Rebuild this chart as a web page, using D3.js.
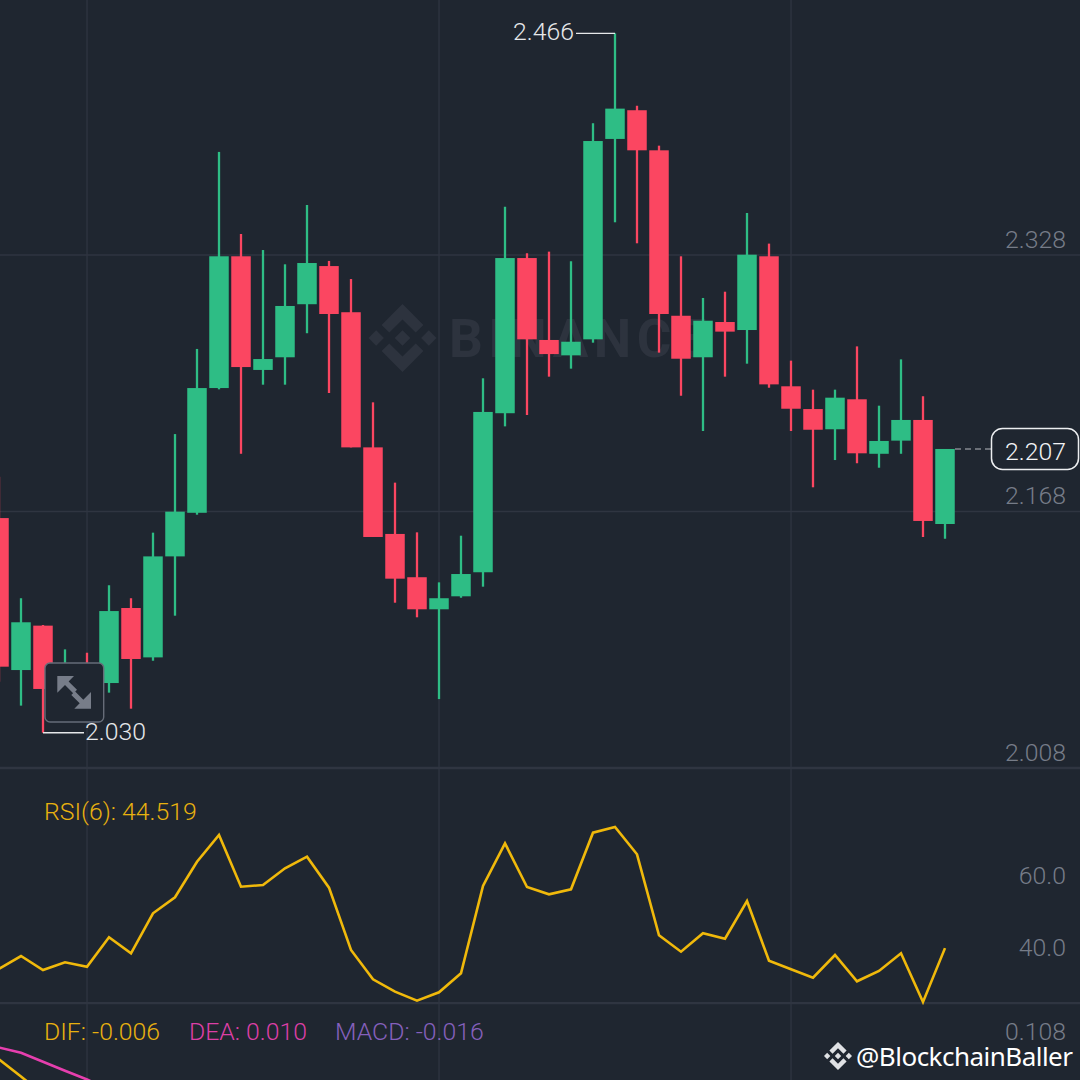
<!DOCTYPE html>
<html><head><meta charset="utf-8">
<script src="https://cdn.jsdelivr.net/npm/d3@7"></script>
<style>
html,body{margin:0;padding:0;background:#1f2630;}
svg{display:block;}
text{font-family:Roboto,sans-serif;font-weight:300;}
</style></head><body>
<svg id="c" width="1080" height="1080"></svg>
<script>
// candles, oldest to newest
const opens  = [2.1639,2.0691,2.0968,2.0573,2.0679,2.0610,2.1078,2.0770,2.1400,2.1672,2.2450,2.3272,2.2563,2.2642,2.2973,2.3211,2.2923,2.2080,2.1540,2.1270,2.1070,2.1151,2.1301,2.2293,2.3261,2.2750,2.2654,2.2754,2.4004,2.4183,2.3933,2.2901,2.2642,2.2862,2.2812,2.3272,2.2461,2.2319,2.2193,2.2380,2.2040,2.2122,2.2251,2.1602];
const closes = [2.0712,2.0989,2.0573,2.0679,2.0610,2.1059,2.0760,2.1400,2.1679,2.2450,2.3272,2.2581,2.2631,2.2962,2.3230,2.2912,2.2080,2.1521,2.1261,2.1070,2.1139,2.1290,2.2301,2.3261,2.2754,2.2662,2.2739,2.3991,2.4193,2.3933,2.2912,2.2633,2.2870,2.2802,2.3282,2.2473,2.2321,2.2190,2.2390,2.2043,2.2120,2.2251,2.1621,2.2070];
const highs  = [2.1897,2.1139,2.0972,2.0820,2.0799,2.1220,2.1139,2.1548,2.2163,2.2694,2.3923,2.3411,2.3311,2.3222,2.3592,2.3243,2.3130,2.2361,2.1860,2.1550,2.1238,2.1529,2.2511,2.3581,2.3291,2.3301,2.3241,2.4102,2.4663,2.4211,2.3962,2.3272,2.3012,2.3051,2.3542,2.3351,2.2621,2.2440,2.2440,2.2710,2.2340,2.2629,2.2399,2.2070];
const lows   = [2.0618,2.0469,2.0300,2.0473,2.0535,2.0550,2.0450,2.0749,2.1030,2.1660,2.2442,2.2040,2.2471,2.2471,2.2792,2.2419,2.2080,2.1521,2.1111,2.1020,2.0510,2.1142,2.1211,2.2211,2.2282,2.2521,2.2571,2.2733,2.3484,2.3353,2.2671,2.2402,2.2182,2.2521,2.2602,2.2452,2.2182,2.1831,2.2001,2.1981,2.1953,2.2040,2.1521,2.1510];
const rsi    = [38.84,42.34,38.48,40.61,39.39,47.50,43.09,54.12,58.54,68.36,75.72,61.46,61.93,66.54,69.74,61.19,44.00,35.92,32.50,30.01,32.33,37.57,61.66,73.43,61.38,59.37,60.74,76.36,77.93,70.40,48.06,43.53,48.61,47.12,57.52,41.05,38.68,36.36,42.62,35.37,38.21,43.09,29.66,44.519];
const dif    = [0.0834,0.0488,0.0140];
const dea    = [0.1070,0.0966,0.0786,0.0604,0.0430,0.0220];
const priceTicks = [2.328,2.168,2.008];
const rsiTicks   = [60,40];
const macdTicks  = [0.108];
const gridIndex  = [4,20,36];
const highLabel = "2.466", lowLabel = "2.030", lastLabel = "2.207";
const legendRsi = "RSI(6): 44.519";
const legendMacd = [["DIF: -0.006","#e8b10f",44],["DEA: 0.010","#dc3fa6",189],["MACD: -0.016","#8560bc",335]];
const watermark = "BINANCE", handle = "@BlockchainBaller";

const BG="#1f2630", GRID="#2f3541", GREEN="#2EBD85", RED="#FB4661", AXIS="#767c88", FS=24.8;
const svg=d3.select("#c");
svg.append("rect").attr("width",1080).attr("height",1080).attr("fill",BG);

const x=d3.scaleLinear().domain([0,43]).range([-1,945]);
const y=d3.scaleLinear().domain([2.328,2.008]).range([255,768]);
const yR=d3.scaleLinear().domain([40,60]).range([964.5,892]);
const yM=d3.scaleLinear().domain([0.108,0]).range([1047,1101]);

// Binance mark
const logoPolys=[
 [[38.73,53.2],[63.31,28.63],[87.9,53.21],[102.2,38.91],[63.31,0],[24.42,38.9]],
 [[0,63.31],[14.3,49.01],[28.6,63.31],[14.3,77.61]],
 [[38.73,73.41],[63.31,97.98],[87.9,73.41],[102.21,87.7],[63.31,126.61],[24.42,87.71]],
 [[98.01,63.31],[112.31,49.01],[126.61,63.31],[112.31,77.61]],
 [[77.83,63.3],[63.31,48.78],[48.8,63.29],[63.31,77.82]]];
function logo(cx,cy,size,fill){
  const s=size/126.61, g=svg.append("g").attr("transform",`translate(${cx-size/2},${cy-size/2}) scale(${s})`);
  g.selectAll("polygon").data(logoPolys).join("polygon").attr("points",d=>d.join(" ")).attr("fill",fill);
}
logo(402.5,338,68,"#2d333e");
svg.append("text").attr("x",449).attr("y",357).text(watermark)
  .attr("font-size",53).style("font-weight",700).style("letter-spacing","5.5px").attr("fill","#2d333e");

// grid
const grid=svg.append("g").attr("stroke",GRID);
grid.selectAll(".v").data(gridIndex).join("line").attr("class","v")
  .attr("x1",d=>x(d)).attr("x2",d=>x(d)).attr("y1",0).attr("y2",1080).attr("stroke-width",1.3);
grid.selectAll(".h").data(priceTicks.slice(0,2)).join("line").attr("class","h")
  .attr("x1",0).attr("x2",1080).attr("y1",d=>y(d)).attr("y2",d=>y(d)).attr("stroke-width",1.3);
[y(2.008),yR(29.35)].forEach(v=>grid.append("line").attr("x1",0).attr("x2",1080).attr("y1",v).attr("y2",v).attr("stroke-width",2.4));

// candles
const idx=d3.range(opens.length);
const colour=i=>closes[i]>=opens[i]?GREEN:RED;
const cg=svg.append("g");
cg.selectAll("line").data(idx).join("line")
  .attr("x1",x).attr("x2",x).attr("y1",i=>y(highs[i])).attr("y2",i=>y(lows[i]))
  .attr("stroke",colour).attr("stroke-width",2.3);
cg.selectAll("rect").data(idx).join("rect")
  .attr("x",i=>x(i)-9.75).attr("width",19.5)
  .attr("y",i=>y(Math.max(opens[i],closes[i])))
  .attr("height",i=>Math.abs(y(opens[i])-y(closes[i])))
  .attr("fill",colour);

// axes
function axis(scale,ticks,fmt,dy){
  const g=svg.append("g").attr("transform","translate(1066,0)")
    .call(d3.axisLeft(scale).tickValues(ticks).tickFormat(d3.format(fmt)).tickSize(0).tickPadding(0));
  g.select(".domain").remove();
  g.selectAll("text").attr("dy",dy).attr("fill",AXIS).attr("font-size",FS).attr("font-family","Roboto");
}
axis(y,priceTicks,".3f",-8);
axis(yR,rsiTicks,".1f",-9);
axis(yM,macdTicks,".3f",-8);

// high / low markers
const hi=d3.greatestIndex(highs), lo=d3.leastIndex(lows);
svg.append("line").attr("x1",576).attr("x2",x(hi)).attr("y1",y(highs[hi])).attr("y2",y(highs[hi])).attr("stroke","#e6e8ea").attr("stroke-width",1.3);
svg.append("text").attr("x",574).attr("y",y(highs[hi])+7).attr("text-anchor","end").attr("font-size",FS).attr("fill","#e6e8ea").text(highLabel);
svg.append("line").attr("x1",x(lo)).attr("x2",84).attr("y1",y(lows[lo])).attr("y2",y(lows[lo])).attr("stroke","#e6e8ea").attr("stroke-width",1.3);
svg.append("text").attr("x",85).attr("y",y(lows[lo])+7.5).attr("font-size",FS).attr("fill","#e6e8ea").text(lowLabel);

// expand button
svg.append("rect").attr("x",45).attr("y",663).attr("width",58.7).attr("height",59).attr("rx",5)
  .attr("fill",BG).attr("stroke","#666c78").attr("stroke-width",1.4);
const ic=svg.append("g").attr("fill","#777d89");
ic.append("path").attr("d","M57.3 676 L74 676 L68.6 681.4 L77 689.8 L73.4 693.4 L65 685 L57.3 692.7 Z");
ic.append("path").attr("d","M91 708.7 L74.3 708.7 L79.7 703.3 L71.3 694.9 L74.9 691.3 L83.3 699.7 L91 692 Z");

// last price tag
const lastY=y(closes[43]);
svg.append("line").attr("x1",x(43)+10).attr("x2",991).attr("y1",lastY).attr("y2",lastY)
  .attr("stroke","#b5b8bd").attr("stroke-width",1.2).attr("stroke-dasharray","6 4");
svg.append("rect").attr("x",991.5).attr("y",428.5).attr("width",87).attr("height",41).attr("rx",11)
  .attr("fill",BG).attr("stroke","#eceef0").attr("stroke-width",1.5);
svg.append("text").attr("x",1066).attr("y",459.5).attr("text-anchor","end").attr("font-size",FS).attr("fill","#f2f3f5").text(lastLabel);

// RSI
svg.append("path").datum(rsi).attr("fill","none").attr("stroke","#F0B90B").attr("stroke-width",2.6).attr("stroke-linejoin","miter")
  .attr("d",d3.line().x((d,i)=>x(i)).y(d=>yR(d)));
svg.append("text").attr("x",44).attr("y",819.5).attr("font-size",FS).attr("fill","#e8b10f").text(legendRsi);

// MACD pane
svg.append("clipPath").attr("id","mc").append("rect").attr("x",0).attr("y",1004).attr("width",1080).attr("height",76);
const mp=svg.append("g").attr("clip-path","url(#mc)");
const lm=d3.line().x((d,i)=>x(i)).y(d=>yM(d));
mp.append("path").datum(dea).attr("fill","none").attr("stroke","#E63FAE").attr("stroke-width",2.6).attr("d",lm);
mp.append("path").datum(dif).attr("fill","none").attr("stroke","#F0B90B").attr("stroke-width",2.6).attr("d",lm);
svg.selectAll(".ml").data(legendMacd).join("text").attr("class","ml")
  .attr("x",d=>d[2]).attr("y",1039.5).attr("font-size",FS).attr("fill",d=>d[1]).text(d=>d[0]);

// watermark handle
logo(838,1056,28,"#dfe1e4");
svg.append("text").attr("x",856).attr("y",1066).attr("font-size",26).style("font-family","'Noto Sans'").style("font-weight",400)
  .attr("textLength",217).attr("fill","#ffffff").text(handle);
</script>
</body></html>
